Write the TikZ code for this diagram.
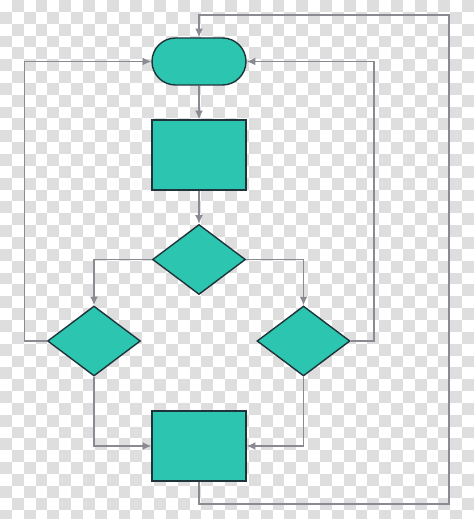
\documentclass[tikz,border=0pt]{standalone}
\usetikzlibrary{shapes.geometric,arrows.meta}

\definecolor{tealfill}{RGB}{44,198,176}
\definecolor{edgedark}{RGB}{30,52,58}
\definecolor{linegray}{RGB}{138,138,146}
\definecolor{checkgray}{RGB}{222,222,222}

\tikzset{
  terminal/.style={draw=edgedark, fill=tealfill, line width=0.8pt, rounded corners=0.47cm, minimum width=1.88cm, minimum height=0.94cm, inner sep=0},
  process/.style={draw=edgedark, fill=tealfill, line width=0.8pt, minimum width=1.88cm, minimum height=1.4cm, inner sep=0},
  decision/.style={draw=edgedark, fill=tealfill, line width=0.8pt, diamond, minimum width=1.86cm, minimum height=1.4cm, inner sep=0},
  flow/.style={draw=linegray, line width=0.8pt, -{Latex[length=5pt,width=4.5pt]}}
}

\begin{document}
\begin{tikzpicture}[x=0.02cm, y=-0.02cm]
    % Background checkerboard
    \useasboundingbox (0,0) rectangle (474,519);
    \fill[white] (0,0) rectangle (474,519);
    \begin{scope}
        \clip (0,0) rectangle (474,519);
        \foreach \i in {0,...,39} {
            \foreach \j in {0,...,43} {
                \pgfmathtruncatemacro{\odd}{mod(\i+\j,2)}
                \ifnum\odd=1
                    \fill[checkgray] (\i*11.85,\j*11.85) rectangle ++(11.85,11.85);
                \fi
            }
        }
    \end{scope}

    % Draw the boxes
    \node[terminal] (start) at (199,61.5) {};
    \node[process] (proc) at (199,155) {};
    \node[decision] (dec) at (199,259.5) {};
    \node[decision] (decl) at (94,341) {};
    \node[decision] (decr) at (303.5,341) {};
    \node[process] (out) at (199,446) {};

    % Turning points of the loops
    \coordinate (lx) at (24.5,0);
    \coordinate (rx) at (374,0);
    \coordinate (bl) at (449,504);
    \coordinate (tr) at (449,15);

    % Main flow
    \draw[flow] (start) -- (proc);
    \draw[flow] (proc) -- (dec);
    \draw[flow] (dec.west) -| (decl.north);
    \draw[flow] (dec.east) -| (decr.north);

    % Loops back to the start
    \draw[flow] (decl.west) -- (decl.west -| lx) |- (start.west);
    \draw[flow] (decr.east) -- (decr.east -| rx) |- (start.east);

    % Into the last box
    \draw[flow] (decl.south) |- (out.west);
    \draw[flow] (decr.south) |- (out.east);

    % Outer loop
    \draw[flow] (out.south) |- (bl) -- (tr) -| (start.north);
\end{tikzpicture}
\end{document}
